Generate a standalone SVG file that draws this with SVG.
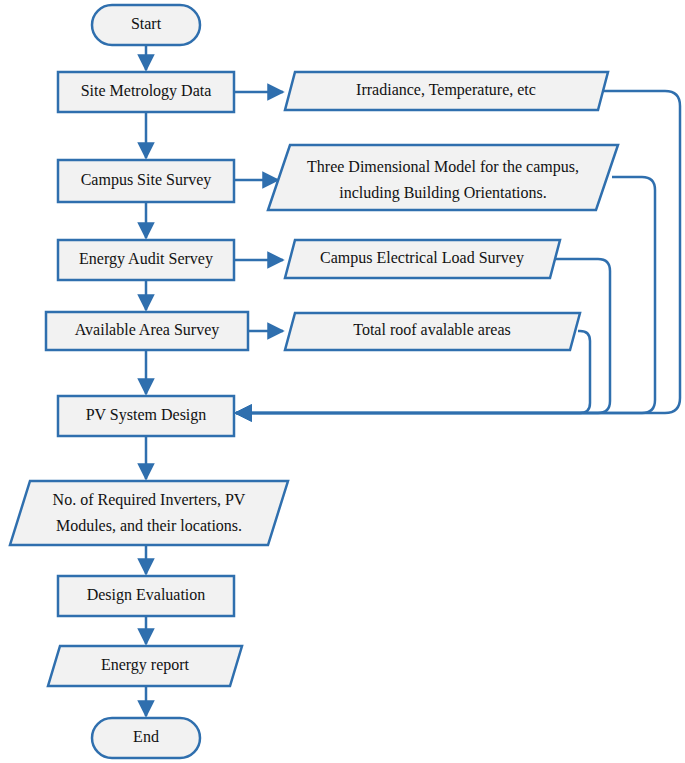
<svg xmlns="http://www.w3.org/2000/svg" width="685" height="763" viewBox="0 0 685 763">
<defs>
<marker id="ah" viewBox="0 0 10 10" refX="9" refY="5" markerWidth="7" markerHeight="7" orient="auto-start-reverse"><path d="M0,0L10,5L0,10z" fill="#2f6fae"/></marker>
<style>
.n{fill:#f2f2f2;stroke:#2f6fae;stroke-width:2.5}
.t{font-family:"Liberation Serif",serif;font-size:16px;fill:#111;text-anchor:middle;dominant-baseline:middle}
.c{fill:none;stroke:#2f6fae;stroke-width:2.5;marker-end:url(#ah)}
</style>
</defs>
<rect width="685" height="763" fill="#fff"/>
<g id="connectors">
<path class="c" d="M146,45V70"/>
<path class="c" d="M146,112V158"/>
<path class="c" d="M146,202V238"/>
<path class="c" d="M146,280V310"/>
<path class="c" d="M146,350V394"/>
<path class="c" d="M146,436V479"/>
<path class="c" d="M146,545V574"/>
<path class="c" d="M146,616V644"/>
<path class="c" d="M146,686V716"/>
<path class="c" d="M234,92H283"/>
<path class="c" d="M234,180H278"/>
<path class="c" d="M234,260H283"/>
<path class="c" d="M248,331H283"/>
<path class="c" d="M604,91H665Q680,91 680,106V398Q680,413 665,413H236"/>
<path class="c" d="M612,177H642Q655,177 655,190V400Q655,413 642,413H236"/>
<path class="c" d="M556,259H598Q610,259 610,271V401Q610,413 598,413H236"/>
<path class="c" d="M578,331H580Q590,331 590,341V403Q590,413 580,413H236"/>
</g>
<g id="start"><rect class="n" x="92" y="5" width="108" height="40" rx="20"/><text class="t" x="146" y="25">Start</text></g>
<g id="site"><rect class="n" x="58" y="72" width="176" height="40"/><text class="t" x="146" y="92">Site Metrology Data</text></g>
<g id="irr"><polygon class="n" points="295,72 608,72 598,110 285,110"/><text class="t" x="446" y="91">Irradiance, Temperature, etc</text></g>
<g id="campus"><rect class="n" x="58" y="160" width="176" height="42"/><text class="t" x="146" y="181">Campus Site Survey</text></g>
<g id="model"><polygon class="n" points="290,145 618,145 596,210 268,210"/><text class="t" x="443" y="168">Three Dimensional Model for the campus,</text><text class="t" x="443" y="194">including Building Orientations.</text></g>
<g id="audit"><rect class="n" x="58" y="240" width="176" height="40"/><text class="t" x="146" y="260">Energy Audit Servey</text></g>
<g id="load"><polygon class="n" points="295,240 560,240 550,278 285,278"/><text class="t" x="422" y="259">Campus Electrical Load Survey</text></g>
<g id="area"><rect class="n" x="46" y="312" width="202" height="38"/><text class="t" x="147" y="331">Available Area Survey</text></g>
<g id="roof"><polygon class="n" points="295,313 580,313 570,350 285,350"/><text class="t" x="432" y="331">Total roof avalable areas</text></g>
<g id="pv"><rect class="n" x="58" y="396" width="176" height="40"/><text class="t" x="146" y="416">PV System Design</text></g>
<g id="inv"><polygon class="n" points="30,481 288,481 268,545 10,545"/><text class="t" x="149" y="501">No. of Required Inverters, PV</text><text class="t" x="149" y="527">Modules, and their locations.</text></g>
<g id="eval"><rect class="n" x="58" y="576" width="176" height="40"/><text class="t" x="146" y="596">Design Evaluation</text></g>
<g id="report"><polygon class="n" points="60,646 242,646 230,686 48,686"/><text class="t" x="145" y="666">Energy report</text></g>
<g id="end"><rect class="n" x="92" y="718" width="108" height="40" rx="20"/><text class="t" x="146" y="738">End</text></g>
</svg>
